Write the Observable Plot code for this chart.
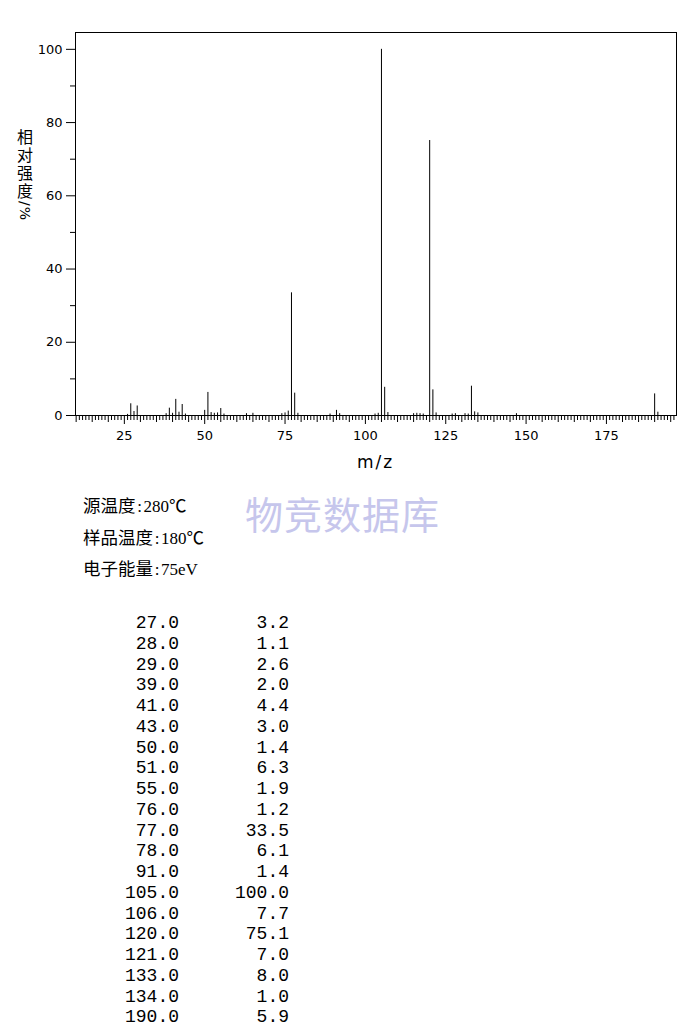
<!DOCTYPE html>
<html>
<head>
<meta charset="utf-8">
<script src="https://cdn.jsdelivr.net/npm/d3@7"></script>
<script src="https://cdn.jsdelivr.net/npm/@observablehq/plot@0.6"></script>
<style>
  html, body { margin: 0; padding: 0; background: #fff; }
  #wrap { position: relative; width: 687px; height: 1027px; overflow: hidden; }
  #chart { position: absolute; left: 0; top: 0; }
  .ylab { position: absolute; left: 16px; top: 129px; writing-mode: vertical-rl; text-orientation: upright;
          font-family: "Noto Sans CJK SC", "DejaVu Sans", sans-serif; font-size: 16px; letter-spacing: 2px; color: #000; line-height: 18px; }
  .ylab .lat { text-orientation: sideways; font-family: "DejaVu Sans", sans-serif; font-size: 14px; letter-spacing: 1px; }
  .xlab { position: absolute; left: 0; width: 751px; top: 452px; text-align: center;
          font-family: "DejaVu Sans", sans-serif; font-size: 17px; letter-spacing: 2px; color: #000; }
  .cond { position: absolute; left: 83px; font-family: "Liberation Serif", "Noto Sans CJK SC", serif; font-size: 17px; color: #000; line-height: 20px; white-space: pre; }
  .cond .cjk { font-family: "Noto Sans CJK SC", sans-serif; font-size: 17.5px; }
  .cond .colon { display: inline-block; width: 8px; text-align: center; }
  .wm { position: absolute; left: 245px; top: 488px; font-family: "Noto Sans CJK SC", sans-serif; font-size: 38px; color: #c6c6ec; line-height: 50px; letter-spacing: 1px; }
  .row { position: absolute; font-family: "Liberation Mono", "DejaVu Sans Mono", monospace; font-size: 18px; color: #000; line-height: 16px; white-space: pre; }
  .c1 { right: calc(687px - 179px); }
  .c2 { right: calc(687px - 289px); }
</style>
</head>
<body>
<div id="wrap">
  <div id="chart"></div>
</div>
<script>
// Peaks listed in the table (m/z, relative intensity %)
const mz = [27, 28, 29, 39, 41, 43, 50, 51, 55, 76, 77, 78, 91, 105, 106, 120, 121, 133, 134, 190];
const intensity = [3.2, 1.1, 2.6, 2.0, 4.4, 3.0, 1.4, 6.3, 1.9, 1.2, 33.5, 6.1, 1.4, 100.0, 7.7, 75.1, 7.0, 8.0, 1.0, 5.9];
// Small peaks (<1%) visible on the plot but not tabulated (estimated)
const smallMz = [26, 38, 40, 42, 44, 52, 53, 54, 56, 63, 65, 74, 75, 79, 89, 92, 103, 104, 107, 115, 116, 117, 118, 122, 127, 128, 131, 132, 135, 147, 191];
const smallIntensity = [0.3, 0.5, 0.6, 0.9, 0.4, 0.8, 0.6, 0.7, 0.4, 0.5, 0.6, 0.5, 0.7, 0.6, 0.4, 0.5, 0.4, 0.6, 0.8, 0.5, 0.6, 0.5, 0.4, 0.7, 0.4, 0.5, 0.5, 0.4, 0.7, 0.5, 0.9];
// Axis ticks
const xMajorTicks = [25, 50, 75, 100, 125, 150, 175];
const yMajorTicks = [0, 20, 40, 60, 80, 100];
const yMinorTicks = [10, 30, 50, 70, 90];
const xDomain = [9.8, 196.8];
const yDomain = [0, 104.6];
// Texts
const xLabel = "m/z";
const yLabelCjk = "相对强度";
const yLabelLatin = "/%";
const conditionNames = ["源温度", "样品温度", "电子能量"];
const conditionValues = ["280", "180", "75eV"];
const conditionUnits = ["℃", "℃", ""];
const watermark = "物竞数据库";
const tableMz = mz.map(v => v.toFixed(1));
const tableInt = intensity.map(v => v.toFixed(1));

const peaks = mz.map((m, i) => ({m, v: intensity[i]}))
  .concat(smallMz.map((m, i) => ({m, v: smallIntensity[i]})));

const unitTicks = d3.range(10, 197, 1).filter(v => v % 5 !== 0);
const fiveTicks = d3.range(10, 197, 5).filter(v => v % 25 !== 0);

const plot = Plot.plot({
  width: 687,
  height: 480,
  marginLeft: 75,
  marginRight: 11,
  marginTop: 32,
  marginBottom: 65,
  style: {fontFamily: "'DejaVu Sans', Verdana, sans-serif", fontSize: "13px", color: "#000", background: "#fff"},
  x: {domain: xDomain},
  y: {domain: yDomain},
  marks: [
    Plot.ruleX(peaks, {x: "m", y1: 0, y2: "v", stroke: "#000", strokeWidth: 1}),
    Plot.frame({stroke: "#000"}),
    Plot.axisY(yMajorTicks, {tickSize: 9, tickPadding: 4, label: null, stroke: "#000"}),
    Plot.axisY(yMinorTicks, {tickSize: 5, tickFormat: () => "", label: null, stroke: "#000"}),
    Plot.axisX(xMajorTicks, {tickSize: 9, tickPadding: 6, label: null, stroke: "#000"}),
    Plot.axisX(fiveTicks, {tickSize: 7, tickFormat: () => "", label: null, stroke: "#000"}),
    Plot.axisX(unitTicks, {tickSize: 5, tickFormat: () => "", label: null, stroke: "#000"})
  ]
});
document.getElementById("chart").appendChild(plot);

const wrap = document.getElementById("wrap");
function add(cls, html, styles) {
  const d = document.createElement("div");
  d.className = cls;
  d.innerHTML = html;
  Object.assign(d.style, styles || {});
  wrap.appendChild(d);
  return d;
}
add("ylab", `${yLabelCjk}<span class="lat">${yLabelLatin}</span>`);
add("xlab", xLabel);
add("wm", watermark);
conditionNames.forEach((a, i) => {
  add("cond", `<span class="cjk">${a}</span><span class="colon">:</span>${conditionValues[i]}<span class="cjk">${conditionUnits[i]}</span>`,
      {top: (495 + i * 31.5) + "px"});
});
tableMz.forEach((t, i) => {
  const top = 615 + i * 20.75;
  add("row c1", t, {top: top + "px"});
  add("row c2", tableInt[i], {top: top + "px"});
});
</script>
</body>
</html>
